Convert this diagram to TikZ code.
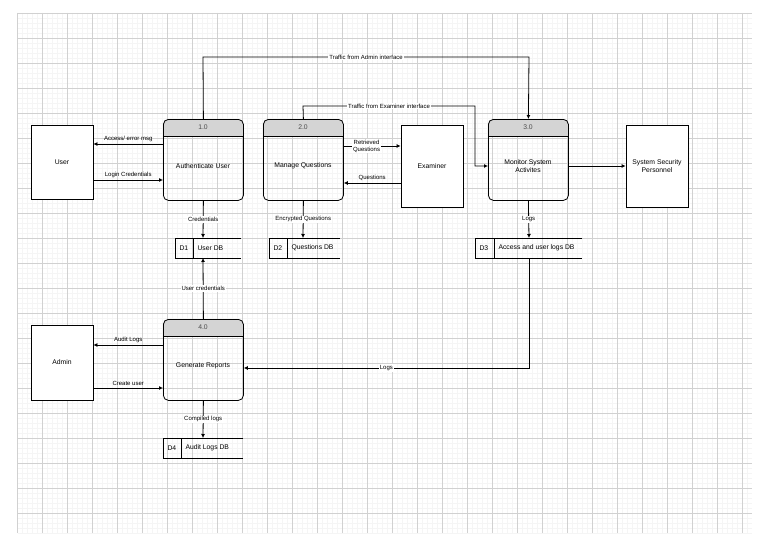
\documentclass[tikz,border=0pt]{standalone}
\usepackage{fontspec}
\setmainfont{Liberation Sans}
\usetikzlibrary{arrows.meta}
\begin{document}
\begin{tikzpicture}[x=1pt,y=-1pt,
  ent/.style={draw,line width=0.8pt,fill=white},
  proc/.style={draw,line width=0.8pt,fill=white,rounded corners=5pt},
  flow/.style={draw,line width=0.8pt,-{Latex[length=4pt,width=4pt]}},
  lbl/.style={fill=white,inner sep=1pt,font=\fontsize{6}{7}\selectfont,align=center},
  txt/.style={font=\fontsize{6.8}{8.2}\selectfont,align=center}]
\useasboundingbox (0,0) rectangle (768,543);
\fill[white] (0,0) rectangle (768,543);
% grid
\foreach \x in {17.5,22.5,...,752} \draw[black!4,line width=0.3pt] (\x,13) -- (\x,533);
\foreach \y in {13,18,...,533} \draw[black!4,line width=0.3pt] (17.5,\y) -- (752,\y);
\foreach \x in {17.5,42.5,...,752} \draw[black!18,line width=0.5pt] (\x,13) -- (\x,533);
\foreach \y in {13,38,...,533} \draw[black!18,line width=0.5pt] (17.5,\y) -- (752,\y);
% entities
\node[ent,minimum width=62pt,minimum height=74pt,txt] (user) at (62,162) {User};
\node[ent,minimum width=62pt,minimum height=75pt,txt] (admin) at (62,362.5) {Admin};
\node[ent,minimum width=62pt,minimum height=82pt,txt] (exam) at (432,166) {Examiner};
\node[ent,minimum width=62pt,minimum height=82pt,txt] (ssp) at (657,166) {System Security\\Personnel};
% processes
\foreach \n/\x/\y/\num/\t in {p1/163/119/1.0/Authenticate User, p2/263/119/2.0/Manage Questions, p3/488/119/3.0/Monitor System\\Activites, p4/163/319/4.0/Generate Reports}{
  \begin{scope}
  \clip[rounded corners=5pt] (\x,\y) rectangle ++(80,81);
  \fill[black!17] (\x,\y) rectangle ++(80,17);
  \end{scope}
  \draw[line width=0.8pt] (\x,\y+17) -- ++(80,0);
  \node[proc,fill=none,minimum width=80pt,minimum height=81pt,anchor=north west] (\n) at (\x,\y) {};
  \node[txt,text=black!70] at (\x+40,\y+8.5) {\num};
  \node[txt] at (\x+40,\y+47) {\t};
}
% data stores
\foreach \n/\x/\w/\d/\id/\t/\y in {d1/175/66/18/D1/User DB/238, d2/269/71/18/D2/Questions DB/238, d3/475/107/19/D3/Access and user logs DB/238, d4/163/80/18/D4/Audit Logs DB/438}{
  \coordinate (\n) at (\x,\y);
  \draw[line width=0.8pt] (\x+\w,\y) -- (\x,\y) -- (\x,\y+20) -- (\x+\w,\y+20);
  \draw[line width=0.8pt] (\x+\d,\y) -- (\x+\d,\y+20);
  \node[txt,anchor=west] at (\x+1,\y+10) {\id};
  \node[txt,anchor=west] at (\x+\d+1,\y+10) {\t};
}
% flows
\draw[flow] (p1.north) -- (203,57) -- node[lbl,pos=0.5]{Traffic from Admin interface} (529,57) -- (p3.north);
\draw[flow] (p2.north) -- (303,106) -- node[lbl,pos=0.5]{Traffic from Examiner interface} (475,106) -- (475,166) -- (p3.west|-0,166);
\draw[flow] (p1.west|-0,144) -- node[lbl,above=1pt,fill=none]{Access/ error msg} (user.east|-0,144);
\draw[flow] (user.east|-0,180) -- node[lbl,above=1pt,fill=none]{Login Credentials} (p1.west|-0,180);
\draw[flow] (p2.east|-0,146) -- node[lbl,pos=0.4]{Retrieved\\Questions} (exam.west|-0,146);
\draw[flow] (exam.west|-0,183) -- node[lbl,above=1pt,fill=none]{Questions} (p2.east|-0,183);
\draw[flow] (p3.east|-0,166) -- (ssp.west|-0,166);
\draw[flow] (p1.south) -- node[lbl]{Credentials} (203,238);
\draw[flow] (p2.south) -- node[lbl]{Encrypted Questions} (303,238);
\draw[flow] (p3.south) -- node[lbl]{Logs} (529,238);
\draw[flow] (p4.north) -- node[lbl]{User credentials} (203,258);
\draw[flow] (p4.west|-0,345) -- node[lbl,above=1pt,fill=none]{Audit Logs} (admin.east|-0,345);
\draw[flow] (admin.east|-0,388) -- node[lbl,above=1pt,fill=none]{Create user} (p4.west|-0,388);
\draw[flow] (529,258) -- (529,368) -- node[lbl]{Logs} (p4.east|-0,368);
\draw[flow] (p4.south) -- node[lbl]{Compiled logs} (203,438);
\end{tikzpicture}
\end{document}
